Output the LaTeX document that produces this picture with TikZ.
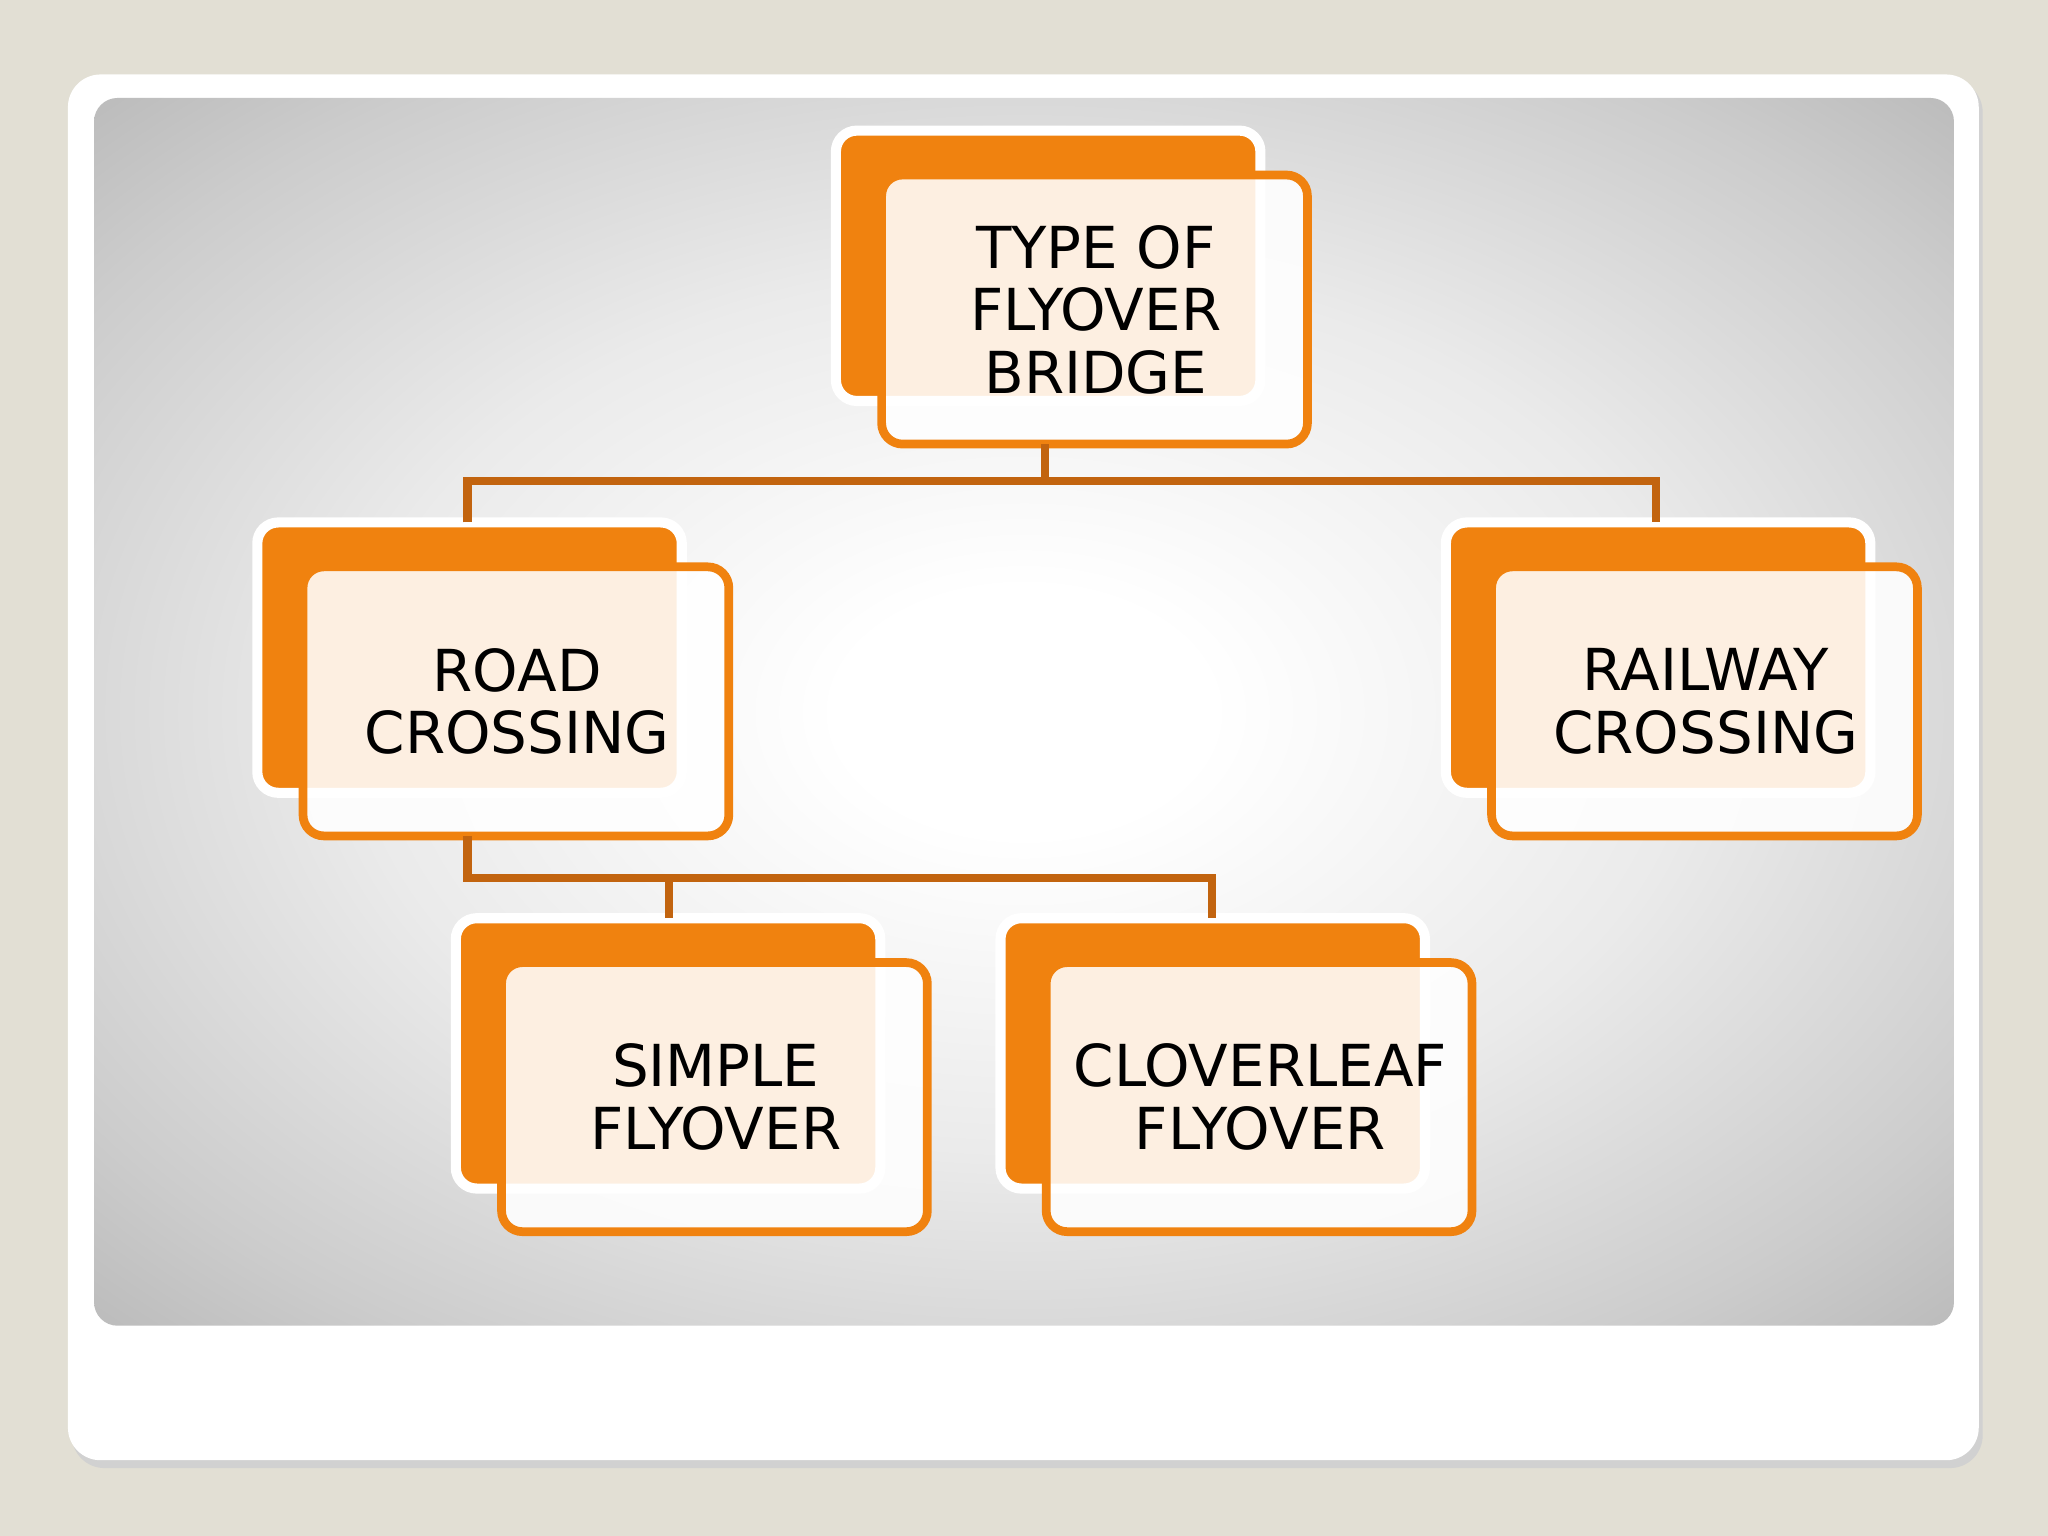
\documentclass[tikz,border=0pt]{standalone}
\usepackage{fontspec}
\setmainfont{DejaVu Sans}
\pgfdeclareradialshading{panelshade}{\pgfpoint{0bp}{0bp}}{color(0bp)=(white); color(5bp)=(white); color(18bp)=(black!8); color(30bp)=(black!20); color(40bp)=(black!32); color(50bp)=(black!38); color(72bp)=(black!40)}
\begin{document}
\begin{tikzpicture}[x=0.01cm,y=-0.01cm,
  backbox/.style={draw=white,line width=2.2pt,fill=orange1,rounded corners=0.16cm},
  frontbox/.style={draw=orange1,line width=1.9pt,fill=white,fill opacity=0.88,rounded corners=0.16cm},
  lbl/.style={font=\fontsize{12.6}{13.6}\selectfont,align=center,text=black},
  conn/.style={draw=conncol,line width=1.8pt}]
\definecolor{orange1}{HTML}{F0820F}
\definecolor{conncol}{HTML}{C2640F}
\definecolor{bgc}{HTML}{E2DFD4}
\useasboundingbox (0,0) rectangle (1568,1176);
\fill[bgc] (0,0) rectangle (1568,1176);
\fill[black!18,rounded corners=0.25cm] (55,61) rectangle (1518,1124);
\fill[white,rounded corners=0.25cm] (52,57) rectangle (1515,1118);
\shade[rounded corners=0.18cm,shading=panelshade] (72,75) rectangle (1496,1015);
% boxes
\newcommand{\mybox}[5]{%
  \draw[backbox] (#1,#2) rectangle +(325,207);
  \draw[frontbox] (#1+35,#2+34) rectangle +(326,206);
  \node[lbl] (#4) at (#1+199,#2+137) {#5};
  \coordinate (#3top) at (#1+163,#2);
  \coordinate (#3bot) at (#1+163,#2+240);}
\mybox{640}{100}{t}{ttext}{TYPE OF\\FLYOVER\\BRIDGE}
\mybox{197}{400}{r}{rtext}{ROAD\\CROSSING}
\mybox{1107}{400}{w}{wtext}{RAILWAY\\CROSSING}
\mybox{349}{703}{s}{stext}{SIMPLE\\FLYOVER}
\mybox{766}{703}{c}{ctext}{CLOVERLEAF\\FLYOVER}
\coordinate (j1) at (800,368);
\coordinate (j2) at (358,672);
\draw[conn] (800,340) -- (j1);
\draw[conn] (358,400) -- (358,368) -- (1268,368) -- (1268,400);
\draw[conn] (358,640) -- (j2) -- (928,672) -- (928,703);
\draw[conn] (512,672) -- (512,703);
\end{tikzpicture}
\end{document}
